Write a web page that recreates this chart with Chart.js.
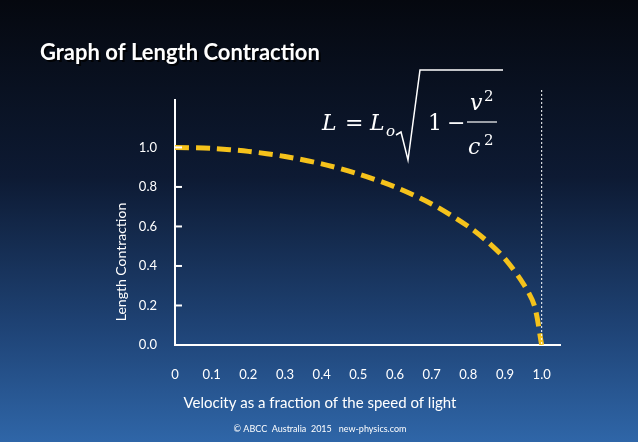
<!DOCTYPE html>
<html><head><meta charset="utf-8">
<script src="https://cdn.jsdelivr.net/npm/chart.js@4"></script>
<style>html,body{margin:0;padding:0;width:638px;height:442px;overflow:hidden;background:linear-gradient(#05080f 0%,#0d1a33 40%,#1f4477 75%,#2f66a8 100%);}#c{display:block}</style>
</head><body><canvas id="c" width="638" height="442"></canvas>
<script>
const velocity=[0,0.1,0.2,0.3,0.4,0.5,0.6,0.7,0.8,0.85,0.9,0.95,0.98,1.0];
const lengthValues=[1.0,0.995,0.98,0.954,0.917,0.866,0.8,0.714,0.6,0.527,0.436,0.31,0.2,0.0];
const xTicks=[0,0.1,0.2,0.3,0.4,0.5,0.6,0.7,0.8,0.9,1.0];
const yTicks=[0,0.2,0.4,0.6,0.8,1.0];
const F='Lato, "Open Sans", sans-serif';
const deco={id:'deco',afterDraw(ch){const c=ch.ctx,xs=ch.scales.x,ys=ch.scales.y;c.save();
c.strokeStyle='#fff';c.lineWidth=2;yTicks.forEach(v=>{const py=ys.getPixelForValue(v);c.beginPath();c.moveTo(xs.left,py);c.lineTo(xs.left+7,py);c.stroke();});
c.lineWidth=1;c.setLineDash([2,2]);const px=xs.getPixelForValue(1);c.beginPath();c.moveTo(px,90);c.lineTo(px,ys.getPixelForValue(0));c.stroke();c.setLineDash([]);
c.fillStyle='#fff';
c.font='bold 22px '+F;c.shadowColor='rgba(0,0,0,0.8)';c.shadowOffsetX=2;c.shadowOffsetY=2;c.textBaseline='alphabetic';c.fillText('Graph of Length Contraction',40,60);c.shadowColor='transparent';
c.font='15px '+F;c.textAlign='center';c.fillText('Velocity as a fraction of the speed of light',320,408);
c.font='9px '+F;c.fillText('© ABCC  Australia  2015   new-physics.com',320,432);
c.save();c.translate(126,262);c.rotate(-Math.PI/2);c.font='14px '+F;c.fillText('Length Contraction',0,0);c.restore();
c.textAlign='left';c.font='italic 22px "DejaVu Serif", serif';c.fillText('L',322,130);c.font='22px "DejaVu Serif", serif';c.fillText('=',345,130);c.font='italic 22px "DejaVu Serif", serif';c.fillText('L',370,130);c.font='italic 15px "DejaVu Serif", serif';c.fillText('o',386,136);
c.lineWidth=1.5;c.beginPath();c.moveTo(396,135);c.lineTo(401,132);c.lineTo(408,160);c.lineTo(420,70);c.lineTo(503,70);c.stroke();
c.font='22px "DejaVu Serif", serif';c.fillText('1',428,130);c.fillText('−',447,130);
c.font='italic 22px "DejaVu Serif", serif';c.fillText('v',470,110);c.fillText('c',468,154);c.font='15px "DejaVu Serif", serif';c.fillText('2',484,101);c.fillText('2',484,145);
c.lineWidth=1.2;c.beginPath();c.moveTo(467,122);c.lineTo(497,122);c.stroke();
c.restore();}};
new Chart(document.getElementById('c'),{type:'scatter',data:{datasets:[{data:velocity.map((v,i)=>({x:v,y:lengthValues[i]})),showLine:true,borderColor:'#f5c21b',borderWidth:5,borderDash:[14,7],pointRadius:0,tension:0.3,fill:false}]},
options:{responsive:false,animation:false,events:[],layout:{padding:{top:100,right:78}},plugins:{legend:{display:false},tooltip:{enabled:false}},
scales:{x:{type:'linear',min:0,max:1.05,afterBuildTicks(s){s.ticks=xTicks.map(v=>({value:v}));},afterFit(s){s.height=97;},border:{color:'#fff',width:2},grid:{display:false},ticks:{color:'#fff',font:{family:F,size:13},padding:14,callback:v=>v===0?'0':v.toFixed(1)}},
y:{min:0,max:1.24,afterBuildTicks(s){s.ticks=yTicks.map(v=>({value:v}));},afterFit(s){s.width=175;},border:{color:'#fff',width:2},grid:{display:false},ticks:{color:'#fff',font:{family:F,size:13},padding:10,callback:v=>v.toFixed(1)}}}},plugins:[deco]});
</script></body></html>
